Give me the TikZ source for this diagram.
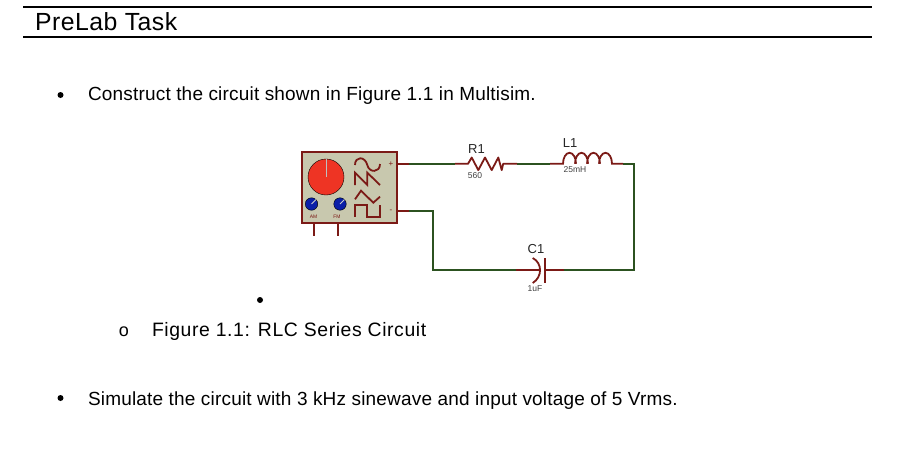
\documentclass[tikz,border=0pt]{standalone}
\usepackage{fontspec}
\setmainfont{Liberation Sans}
\newfontfamily\bodyfont[LetterSpace=1]{Liberation Sans}
\newfontfamily\headfont[LetterSpace=2]{Liberation Sans}
\newfontfamily\capfont[LetterSpace=3]{Liberation Sans}
\usetikzlibrary{calc, positioning}
\definecolor{wirered}{HTML}{7B1A16}
\definecolor{wiregreen}{HTML}{2C5220}
\definecolor{genbody}{HTML}{C8C8AE}
\definecolor{dialred}{HTML}{EE3424}
\definecolor{knobblue}{HTML}{0A1FA8}
\newcommand{\txt}[1]{\fontsize{#1}{#1}\selectfont}

\begin{document}
\begin{tikzpicture}[x=1pt, y=-1pt, every node/.style={inner sep=0, outer sep=0}]
\tikzstyle{rule}=[line width=1.8pt]
\tikzstyle{bodytext}=[anchor=base west, font=\bodyfont\txt{19}]
\tikzstyle{dot}=[circle, fill=black, minimum size=6pt]
\tikzstyle{lead}=[wirered, line width=1.8pt]
\tikzstyle{wire}=[wiregreen, line width=1.8pt]
\tikzstyle{partname}=[font=\txt{13}, text=black!85]
\tikzstyle{partvalue}=[font=\txt{8.5}, text=black!75]
\tikzstyle{knob}=[circle, draw=black, fill=knobblue, minimum size=12.5pt]
\useasboundingbox (0,0) rectangle (897,455);

% heading
\coordinate (ruletopL) at (23,7);
\coordinate (ruletopR) at (872,7);
\coordinate (rulebotL) at (23,37);
\coordinate (rulebotR) at (872,37);
\draw[rule] (ruletopL) -- (ruletopR);
\draw[rule] (rulebotL) -- (rulebotR);
\node[anchor=base west, font=\headfont\txt{24.8}] (heading) at (35,30.5) {PreLab Task};

% text lines
\node[dot] (bullet1) at (60.5,95) {};
\node[bodytext] (line1) at (88,100.7) {Construct the circuit shown in Figure 1.1 in Multisim.};
\node[dot] (bullet2) at (260,300) {};
\node[anchor=base, font=\txt{18}] (sub) at (124,336.5) {o};
\node[anchor=base west, font=\capfont\txt{19.4}] (caption) at (152,336.5) {Figure 1.1: RLC Series Circuit};
\node[dot] (bullet3) at (60.5,398) {};
\node[bodytext] (line2) at (88,405) {Simulate the circuit with 3 kHz sinewave and input voltage of 5 Vrms.};

% generator
\node[draw=wirered, fill=genbody, line width=2pt, minimum width=95pt, minimum height=71pt] (gen) at (349.5,187.5) {};
\node[circle, draw=black, fill=dialred, minimum size=36pt] (dial) at (326,177) {};
\draw[black!25, line width=1pt] (dial.center) -- (dial.north);
\node[knob] (knobam) at (311.5,204) {};
\node[knob] (knobfm) at (340,204) {};
\draw[white!80!black, line width=1pt] (knobam.center) -- (knobam.north east);
\draw[white!80!black, line width=1pt] (knobfm.center) -- (knobfm.north east);
\node[font=\txt{5}, text=wirered] (labam) at (313.5,217) {AM};
\node[font=\txt{5}, text=wirered] (labfm) at (337,217) {FM};
\node[font=\txt{8}, text=wirered] (labplus) at (391,164) {+};
\node[font=\txt{8}, text=wirered] (labminus) at (391,211) {-};

% waveforms
\draw[lead] (355,165) .. controls (355,156) and (365,156) .. (367.3,165) .. controls (369,173) and (380,173) .. (380,164);
\draw[lead] (355,185) -- (355,172.7) -- (367.3,185) -- (367.3,172.7) -- (380,185);
\draw[lead] (355,199.3) -- (361,190.7) -- (373.3,202.7) -- (380,196.7);
\draw[lead] (355,216.7) -- (355,205) -- (367.3,205) -- (367.3,216.7) -- (380,216.7) -- (380,205);

% pins
\coordinate (pinam) at (313.8,236);
\coordinate (pinfm) at (337.8,236);
\draw[lead] (gen.south -| pinam) -- (pinam);
\draw[lead] (gen.south -| pinfm) -- (pinfm);

% circuit points
\coordinate (plus) at (gen.east |- 0,163.8);
\coordinate (plusend) at (409,163.8);
\coordinate (minus) at (gen.east |- 0,211);
\coordinate (minusend) at (409,211);
\coordinate (minuscorner) at (433,211);
\coordinate (botleft) at (433,270);
\coordinate (botright) at (634,270);
\coordinate (topright) at (634,163.8);
\coordinate (r1a) at (455,163.8);
\coordinate (r1b) at (517,163.8);
\coordinate (l1a) at (550,163.8);
\coordinate (l1b) at (623,163.8);
\coordinate (c1a) at (516,270);
\coordinate (c1b) at (564,270);
\coordinate (c1plate) at (540,270);
\coordinate (c1flat) at (545.3,270);

% wires
\draw[wire] (plusend) -- (r1a);
\draw[wire] (r1b) -- (l1a);
\draw[wire] (l1b) -- (topright) -- (botright) -- (c1b);
\draw[wire] (c1a) -- (botleft) -- (minuscorner) -- (minusend);
\draw[lead] (plus) -- (plusend);
\draw[lead] (minus) -- (minusend);

% R1
\draw[lead, line join=round] (r1a) -- ++(13,0) -- ++(3.7,-6.3) -- ++(6.6,12.6) -- ++(6.7,-12.6) -- ++(6.7,12.6) -- ++(6.6,-12.6) -- ++(3.4,12.6) -- ++(1.5,-6.3) -- (r1b);
\node[partname] (r1name) at (476.5,149) {R1};
\node[partvalue] (r1val) at (475,175.5) {560};

% L1
\draw[lead] (l1a) -- ++(13,0)
  arc[start angle=180, end angle=360, x radius=6.5, y radius=11] ++(-1,0)
  arc[start angle=180, end angle=360, x radius=6.5, y radius=11] ++(-1,0)
  arc[start angle=180, end angle=360, x radius=6.5, y radius=11] ++(-1,0)
  arc[start angle=180, end angle=360, x radius=6.5, y radius=11] -- (l1b);
\node[partname] (l1name) at (570,143) {L1};
\node[partvalue] (l1val) at (575,169.5) {25mH};

% C1
\draw[lead] (c1a) -- (c1plate);
\draw[lead] (c1flat) -- (c1b);
\draw[lead] (532.7,258) .. controls (542.5,263) and (542.5,277) .. (532.7,283);
\draw[lead] (545.3,258) -- (545.3,283);
\node[partname] (c1name) at (536,249) {C1};
\node[partvalue] (c1val) at (535,288.5) {1uF};
\end{tikzpicture}
\end{document}
